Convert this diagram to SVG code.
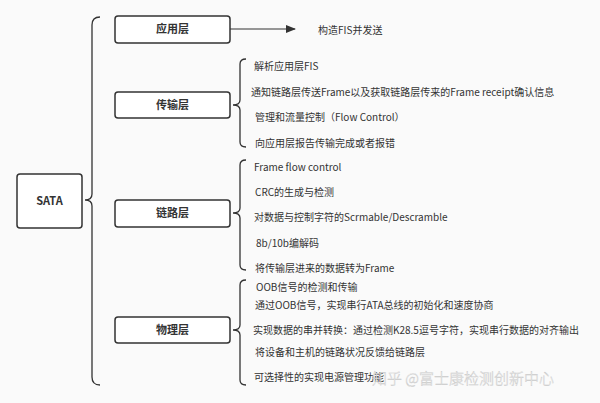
<svg xmlns="http://www.w3.org/2000/svg" width="600" height="403" viewBox="0 0 600 403">
<defs><marker id="ah" markerWidth="10" markerHeight="8" refX="9" refY="4" orient="auto" markerUnits="userSpaceOnUse"><path d="M0,0L10,4L0,8z" fill="#333"/></marker></defs>
<style>
.box{fill:#fff;stroke:#333;stroke-width:1.5}
.bl{font-family:"Noto Sans CJK SC",sans-serif;font-size:11px;font-weight:bold;fill:#333;text-anchor:middle}
.t{font-family:"Noto Sans CJK SC",sans-serif;font-size:10px;fill:#333}
.br{fill:none;stroke:#333;stroke-width:1.3}
</style>
<rect width="600" height="403" fill="#fafafa"/>
<g id="connectors">
<path class="br" d="M100,17 Q92,17 92,25 L92,194 Q92,200 85,200 Q92,200 92,206 L92,377 Q92,385 100,385"/>
<line x1="230" y1="29" x2="295" y2="29" stroke="#333" stroke-width="1.2" marker-end="url(#ah)"/>
<path class="br" d="M246,59 Q240,59 240,64 L240,100 Q240,105 233,105 Q240,105 240,110 L240,142 Q240,147 246,147"/>
<path class="br" d="M246,160 Q240,160 240,165 L240,208 Q240,213 233,213 Q240,213 240,218 L240,265 Q240,270 246,270"/>
<path class="br" d="M246,280 Q240,280 240,285 L240,325 Q240,330 233,330 Q240,330 240,335 L240,380 Q240,385 246,385"/>
</g>
<g id="sata"><rect class="box" x="17" y="174" width="65" height="54" rx="3"/><text class="bl" x="49.5" y="205" font-size="13">SATA</text></g>
<g id="app"><rect class="box" x="115" y="16" width="115" height="27" rx="3"/><text class="bl" x="172.5" y="33">应用层</text></g>
<g id="app-t"><text class="t" x="318" y="34">构造FIS并发送</text></g>
<g id="trans"><rect class="box" x="115" y="92" width="115" height="26" rx="3"/><text class="bl" x="172.5" y="109">传输层</text>
<text class="t" x="254" y="70">解析应用层FIS</text>
<text class="t" x="251" y="96">通知链路层传送Frame以及获取链路层传来的Frame receipt确认信息</text>
<text class="t" x="255" y="121">管理和流量控制（Flow Control）</text>
<text class="t" x="255" y="147">向应用层报告传输完成或者报错</text></g>
<g id="link"><rect class="box" x="115" y="200" width="115" height="27" rx="3"/><text class="bl" x="172.5" y="217">链路层</text>
<text class="t" x="254" y="171">Frame flow control</text>
<text class="t" x="255" y="196">CRC的生成与检测</text>
<text class="t" x="254" y="221">对数据与控制字符的Scrmable/Descramble</text>
<text class="t" x="256" y="247">8b/10b编解码</text>
<text class="t" x="255" y="272">将传输层进来的数据转为Frame</text></g>
<g id="phy"><rect class="box" x="115" y="317" width="115" height="26" rx="3"/><text class="bl" x="172.5" y="334">物理层</text>
<text class="t" x="256" y="291">OOB信号的检测和传输</text>
<text class="t" x="255" y="309">通过OOB信号，实现串行ATA总线的初始化和速度协商</text>
<text class="t" x="253" y="334">实现数据的串并转换：通过检测K28.5逗号字符，实现串行数据的对齐输出</text>
<text class="t" x="255" y="356">将设备和主机的链路状况反馈给链路层</text>
<text class="t" x="254" y="381">可选择性的实现电源管理功能</text></g>
<text x="372" y="384" font-family="Noto Sans CJK SC,sans-serif" font-size="15" font-weight="300" fill="#fff" fill-opacity="0.7" stroke="#c8c8c8" stroke-width="0.4">知乎 @富士康检测创新中心</text>
</svg>
